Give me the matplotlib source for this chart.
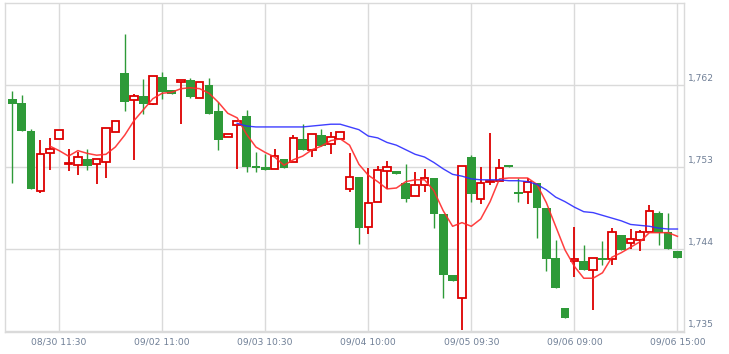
import matplotlib

matplotlib.use("Agg")
import matplotlib.pyplot as plt
import numpy as np
from matplotlib.transforms import offset_copy

# OHLC candles, one per bar, left to right
opens = [1760.5, 1760.0, 1757.0, 1750.4, 1754.5, 1756.1, 1753.3, 1753.2, 1753.9, 1753.3,
         1753.5, 1756.8, 1763.3, 1760.4, 1760.8, 1759.9, 1762.9, 1761.5, 1762.3, 1762.6,
         1760.6, 1762.0, 1759.1, 1756.3, 1757.6, 1758.6, 1753.1, 1753.0, 1752.8, 1753.9,
         1753.5, 1756.1, 1754.9, 1756.5, 1755.5, 1756.1, 1750.6, 1751.9, 1746.4, 1749.2,
         1752.6, 1752.6, 1751.2, 1749.8, 1751.0, 1751.8, 1747.8, 1741.2, 1738.6, 1754.1,
         1749.5, 1751.4, 1751.5, 1753.1, 1750.3, 1750.3, 1751.2, 1748.5, 1743.0, 1737.5,
         1742.7, 1742.7, 1741.7, 1743.0, 1742.9, 1745.5, 1744.7, 1745.0, 1745.9, 1748.0,
         1745.9, 1743.8]
highs = [1761.3, 1760.9, 1757.2, 1756.0, 1756.2, 1757.1, 1755.0, 1754.6, 1755.0, 1753.9,
         1757.3, 1758.1, 1767.6, 1761.0, 1762.7, 1763.0, 1763.4, 1761.5, 1762.6, 1762.8,
         1762.3, 1762.8, 1760.1, 1756.6, 1758.1, 1759.3, 1754.6, 1754.4, 1755.0, 1753.9,
         1756.5, 1757.7, 1756.6, 1757.2, 1756.8, 1756.8, 1754.5, 1751.9, 1752.9, 1753.1,
         1753.7, 1752.6, 1753.3, 1752.5, 1752.8, 1751.8, 1747.8, 1741.2, 1753.1, 1754.3,
         1753.0, 1756.7, 1753.9, 1753.1, 1751.8, 1751.8, 1751.2, 1748.5, 1745.0, 1737.5,
         1746.4, 1744.4, 1743.0, 1744.9, 1746.3, 1745.5, 1746.2, 1746.1, 1748.8, 1748.2,
         1748.0, 1743.8]
lows = [1751.2, 1757.0, 1750.6, 1750.1, 1752.7, 1756.1, 1752.6, 1752.1, 1752.7, 1751.1,
        1751.8, 1756.8, 1759.1, 1753.8, 1758.8, 1759.8, 1760.5, 1761.0, 1757.7, 1760.6,
        1760.6, 1758.8, 1754.9, 1756.3, 1752.8, 1752.5, 1752.5, 1752.7, 1752.8, 1752.9,
        1753.5, 1754.9, 1754.1, 1755.3, 1754.4, 1756.1, 1750.3, 1744.6, 1745.6, 1749.2,
        1750.6, 1752.2, 1749.2, 1749.8, 1750.3, 1746.3, 1738.6, 1740.5, 1735.1, 1749.2,
        1748.9, 1751.0, 1751.5, 1753.0, 1749.2, 1748.9, 1745.2, 1741.6, 1739.7, 1736.4,
        1740.9, 1741.7, 1737.3, 1742.2, 1742.2, 1743.9, 1744.0, 1743.8, 1745.9, 1744.4,
        1744.0, 1743.0]
closes = [1759.9, 1757.0, 1750.6, 1754.4, 1755.0, 1757.1, 1753.4, 1754.1, 1753.1, 1753.9,
          1757.3, 1758.1, 1760.1, 1760.8, 1759.9, 1763.0, 1761.2, 1761.0, 1762.6, 1760.7,
          1762.3, 1758.8, 1756.0, 1756.6, 1758.1, 1753.0, 1752.9, 1752.7, 1754.2, 1752.9,
          1756.2, 1754.9, 1756.6, 1755.3, 1756.3, 1756.8, 1751.9, 1746.3, 1749.1, 1752.7,
          1753.0, 1752.2, 1749.5, 1751.0, 1751.8, 1747.8, 1741.2, 1740.5, 1753.1, 1750.0,
          1751.2, 1751.5, 1752.9, 1753.0, 1750.0, 1751.4, 1748.5, 1742.9, 1739.7, 1736.4,
          1742.9, 1741.7, 1743.0, 1742.8, 1745.9, 1743.9, 1745.1, 1745.9, 1748.2, 1745.8,
          1744.0, 1743.0]

# short average (red) starts at bar 4, long average (blue) at bar 24
ma_short = [1755.3, 1754.8, 1754.2, 1754.8, 1754.5, 1754.3, 1754.4, 1755.2, 1756.5, 1758.1,
            1759.3, 1760.5, 1761.1, 1761.2, 1761.6, 1761.7, 1761.6, 1761.1, 1760.1, 1758.9,
            1758.4, 1756.6, 1755.2, 1754.6, 1754.1, 1753.2, 1753.8, 1754.2, 1754.9, 1755.3,
            1755.9, 1756.1, 1755.4, 1753.3, 1752.1, 1751.4, 1750.6, 1750.7, 1751.4, 1751.6,
            1751.6, 1750.4, 1748.2, 1746.5, 1746.9, 1746.5, 1747.3, 1749.2, 1751.7, 1751.8,
            1751.8, 1751.8, 1751.1, 1749.1, 1746.5, 1743.9, 1742.1, 1740.8, 1740.8, 1741.4,
            1743.1, 1743.6, 1744.2, 1744.8, 1745.8, 1745.8, 1745.8, 1745.4]
ma_long = [1757.8, 1757.5, 1757.4, 1757.4, 1757.4, 1757.4, 1757.4, 1757.4, 1757.5, 1757.6,
           1757.7, 1757.7, 1757.4, 1757.1, 1756.4, 1756.2, 1755.7, 1755.4, 1754.9, 1754.4,
           1754.1, 1753.5, 1752.8, 1752.2, 1752.0, 1751.7, 1751.6, 1751.6, 1751.6, 1751.5,
           1751.5, 1751.4, 1751.1, 1750.5, 1749.7, 1749.2, 1748.6, 1748.1, 1748.0, 1747.7,
           1747.4, 1747.1, 1746.7, 1746.6, 1746.5, 1746.3, 1746.2, 1746.2]

date_ticks = [5, 16, 27, 38, 49, 60, 71]
date_labels = ["08/30 11:30", "09/02 11:00", "09/03 10:30", "09/04 10:00",
               "09/05 09:30", "09/06 09:00", "09/06 15:00"]
price_ticks = [1735, 1744, 1753, 1762]

RED = "#dd0000"
GREEN = "#2e9a38"
GRID = "#dadada"
LABEL = "#6f7f96"

o = np.array(opens)
h = np.array(highs)
l = np.array(lows)
c = np.array(closes)
x = np.arange(len(o))
up = c >= o

fig = plt.figure(figsize=(7.29, 3.54), dpi=100)
ax = fig.add_axes([5 / 729, 22 / 354, 679 / 729, 329 / 354])

ax.vlines(x[up], l[up], h[up], color=RED, lw=1.3, zorder=2)
ax.vlines(x[~up], l[~up], h[~up], color=GREEN, lw=1.0, zorder=2)
ax.bar(x[~up], np.maximum(o[~up] - c[~up], 0.25), bottom=c[~up], width=0.93,
       color=GREEN, lw=0, zorder=3)
ax.bar(x[up], np.maximum(c[up] - o[up], 0.05), bottom=o[up], width=0.8,
       facecolor="white", edgecolor=RED, lw=1.3, zorder=3)

ax.plot(x[4:], ma_short, color="#ff2a2a", lw=1.1, alpha=0.9, zorder=4)
ax.plot(x[24:], ma_long, color="#2a2aff", lw=1.0, alpha=0.9, zorder=4)

ax.set_xlim(-0.78, 71.7)
ax.set_ylim(1734.9, 1771.0)
ax.set_xticks(date_ticks)
ax.set_xticklabels(date_labels)
ax.set_yticks(price_ticks)
ax.set_yticklabels([])
ax.tick_params(axis="x", length=0, pad=4, labelsize=6.6, labelcolor=LABEL)
ax.tick_params(axis="y", length=0)
ax.grid(True, color=GRID, lw=1.0, zorder=0)
ax.set_axisbelow(True)
for s in ax.spines.values():
    s.set_color(GRID)
    s.set_linewidth(1.0)

trans = offset_copy(ax.get_yaxis_transform(), fig=fig, x=4, y=7, units="dots")
for p in price_ticks:
    ax.text(1.0, p, f"{p:,}", transform=trans, ha="left", va="center",
            fontsize=6.6, color=LABEL)

fig.savefig("out.png", dpi=100)
